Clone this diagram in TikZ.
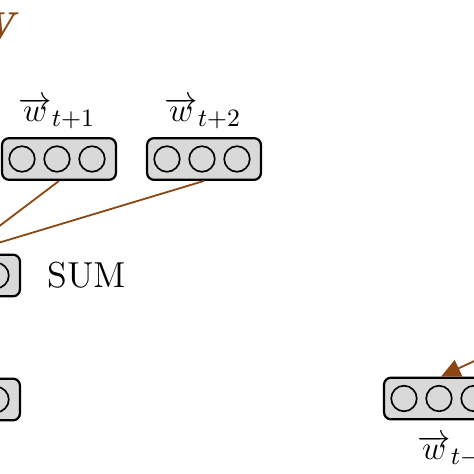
\documentclass[tikz,border=0pt]{standalone}
\usetikzlibrary{arrows.meta}

\definecolor{wordbrown}{RGB}{140,70,20}
\definecolor{boxgray}{RGB}{217,217,217}

\begin{document}
\begin{tikzpicture}[x=0.36pt, y=-0.36pt,
    vecbox/.style={draw=black, fill=boxgray, line width=0.8pt, rounded corners=2.5pt,
        minimum width=41pt, minimum height=15pt, inner sep=0pt},
    unit/.style={circle, draw=black, line width=0.6pt, minimum size=9.2pt, inner sep=0pt},
    link/.style={draw=wordbrown, line width=0.65pt},
    lbl/.style={inner sep=0pt, font=\fontsize{13}{15}\selectfont}]

    \useasboundingbox (0,0) rectangle (474,474);
    \clip (0,0) rectangle (474,474);

    % word vectors, three units each
    \foreach \n/\x/\y in {wa/59/159, wb/204/159, sum/-37/275.5, wc/-37/399.5, wd/441/398.5} {
        \node[vecbox] (\n) at (\x,\y) {};
        \foreach \dx in {-37,-2,33}
            \node[unit] at (\x+\dx,\y) {};
    }

    \node[lbl] (la) at (57,113) {$\overrightarrow{w}_{t+1}$};
    \node[lbl] (lb) at (203,113) {$\overrightarrow{w}_{t+2}$};
    \node[lbl, anchor=west] (ld) at (417,451) {$\overrightarrow{w}_{t-2}$};
    \node[lbl, anchor=west] (lsum) at (47,275.5) {SUM};
    \node[lbl, anchor=east, text=wordbrown, font=\fontsize{14}{16}\selectfont\bfseries\itshape] (title) at (15,26) {W};

    \draw[link] (wa.south) -- (sum.north);
    \draw[link] (wb.south) -- (sum.north);

    \coordinate (src) at (530,335);
    \draw[link, -{Triangle[length=7pt, width=6.5pt]}] (src) -- (wd.north);

\end{tikzpicture}
\end{document}
